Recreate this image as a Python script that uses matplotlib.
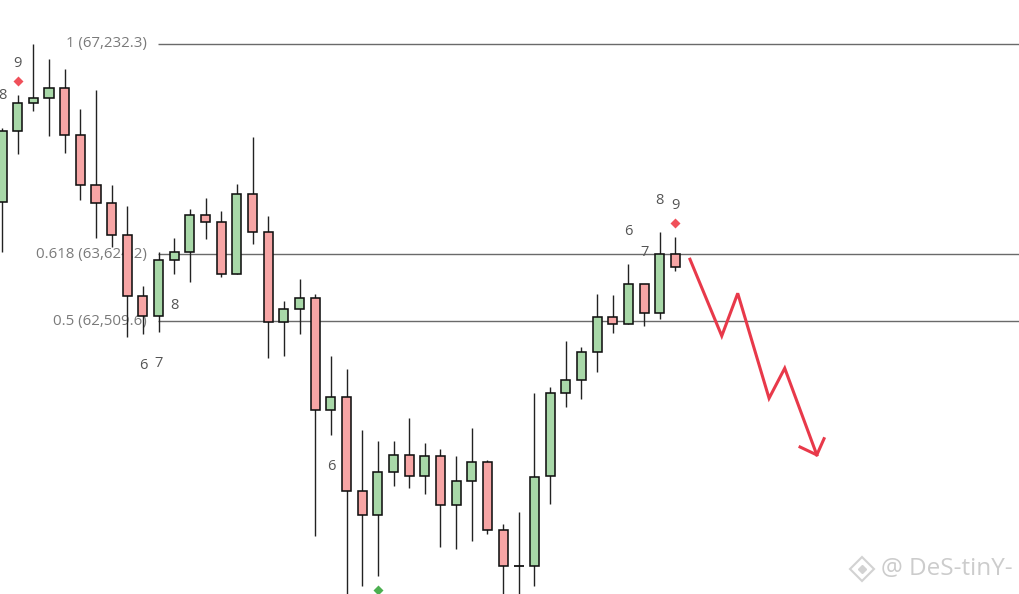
import matplotlib
matplotlib.use("Agg")
import matplotlib.pyplot as plt
import matplotlib.transforms as mtransforms

# ---- candle data ----
opens = [64505, 65710, 66194, 66281, 66455, 65640, 64784, 64478, 63938, 62932,
         62603, 63520, 63654, 64276, 64158, 63287, 64630, 63989, 62495, 62708,
         62889, 61067, 61275, 59781, 59406, 60081, 60349, 60018, 60333, 59562,
         59939, 60239, 59172, 58615, 58615, 60018, 61339, 61550, 62004, 62577,
         62462, 63121, 62643, 63620]
highs = [65772, 66333, 67232.3, 66969, 66794, 66096, 66425, 64789, 64433, 63093,
         63659, 63893, 64382, 64568, 64348, 64806, 65611, 64264, 62845, 63209,
         62960, 61944, 61733, 60752, 60576, 60576, 60944, 60544, 60444, 60338,
         60784, 60270, 59270, 59457, 61344, 61441, 62188, 62090, 62960, 62938,
         63464, 63121, 63989, 63905]
lows = [63664, 65319, 66066, 65633, 65341, 64534, 63898, 63742, 62258, 62303,
        62341, 63297, 63164, 63881, 63247, 63287, 63797, 61916, 61949, 62308,
        59083, 60676, 58120, 58317, 58471, 59869, 59838, 59743, 58917, 58886,
        59010, 59119, 58130, 58140, 58317, 59587, 61124, 61252, 61689, 62324,
        62462, 62439, 62554, 63337]
closes = [65710, 66194, 66281, 66455, 65640, 64784, 64478, 63938, 62932, 62603,
          63520, 63654, 64276, 64158, 63287, 64630, 63989, 62495, 62708, 62889,
          61067, 61275, 59781, 59406, 60081, 60349, 60018, 60333, 59562, 59939,
          60239, 59172, 58615, 58615, 60002, 61339, 61550, 62004, 62577, 62462,
          63121, 62643, 63620, 63404]

# ---- fibonacci ----
fib_high = 67232.3
fib_low = 57786.9
fib_levels = [1, 0.618, 0.5]
fib_start = 9.96

# ---- sequential count labels ----
td_up_idx = [0, 1, 40, 41, 42, 43]
td_up_txt = ["8", "9", "6", "7", "8", "9"]
td_dn_idx = [9, 10, 11, 21]
td_dn_txt = ["6", "7", "8", "6"]
red_diamond_idx = [1, 43]
green_diamond_idx = [24]

# ---- hand-drawn arrow (candle index, price) ----
arrow_x = [43.93, 45.96, 46.98, 48.98, 49.98, 52.03]
arrow_y = [63537, 62270, 62971, 61259, 61744, 60354]
head_x = [50.96, 52.03, 52.49]
head_y = [60480, 60354, 60612]

UP = "#a8d8a8"
DN = "#f7a5a5"

fig = plt.figure(figsize=(10.19, 5.94), dpi=100)
ax = fig.add_axes([0, 0, 1, 1])
ax.set_yscale("log")
ax.set_xlim(-0.128, 64.94)
ax.set_ylim(58189.4, 68013.7)
ax.axis("off")

xs = list(range(len(opens)))
ax.vlines(xs, lows, highs, color="#222222", lw=1.0, zorder=2)
for i in xs:
    o, c = opens[i], closes[i]
    col = UP if c > o else DN
    if c == o:
        ax.hlines(o, i - 0.32, i + 0.32, color="#111111", lw=1.3, zorder=3)
    else:
        ax.bar(i, abs(c - o), bottom=min(o, c), width=0.58, color=col,
               edgecolor="#111111", linewidth=1.15, zorder=3)

# fib lines + labels
for lvl in fib_levels:
    p = fib_low + lvl * (fib_high - fib_low)
    ax.hlines(p, fib_start, 64.94, color="#6a6a6a", lw=1.0, zorder=1)
    ax.annotate(f"{lvl:g} ({p:,.1f})", (fib_start, p), xytext=(-11, 0),
                textcoords="offset pixels", ha="right", va="center",
                fontsize=10.8, family="Open Sans", color="#7a7a7a", zorder=1)

# count labels
for i, t in zip(td_up_idx, td_up_txt):
    ax.annotate(t, (i, highs[i]), xytext=(0, 32), textcoords="offset pixels",
                ha="center", va="center", fontsize=10.5, family="Open Sans",
                color="#555555")
for i, t in zip(td_dn_idx, td_dn_txt):
    ax.annotate(t, (i, lows[i]), xytext=(0, -32), textcoords="offset pixels",
                ha="center", va="center", fontsize=10.5, family="Open Sans",
                color="#555555")

up_tr = mtransforms.offset_copy(ax.transData, fig=fig, x=0, y=14, units="dots")
dn_tr = mtransforms.offset_copy(ax.transData, fig=fig, x=0, y=-14, units="dots")
ax.plot(red_diamond_idx, [highs[i] for i in red_diamond_idx], "D", ms=5.5,
        color="#f0505a", mec="none", transform=up_tr, zorder=4)
ax.plot(green_diamond_idx, [lows[i] for i in green_diamond_idx], "D", ms=5.5,
        color="#4caf50", mec="none", transform=dn_tr, zorder=4)

# arrow drawing
ax.plot(arrow_x, arrow_y, color="#e8394a", lw=2.2, solid_joinstyle="miter", zorder=5)
ax.plot(head_x, head_y, color="#e8394a", lw=2.2, zorder=5)

# watermark
fig.text(881 / 1019, 1 - 569 / 594, "@ DeS-tinY-", fontsize=17.5, family="Open Sans",
         color="#cccccc", va="center", ha="left")
lx, ly = 862 / 1019, 1 - 569 / 594
fig.lines.append(plt.Line2D([lx], [ly], marker="D", ms=12, mfc="none", mec="#d2d2d2",
                            mew=1.5, transform=fig.transFigure))
fig.lines.append(plt.Line2D([lx], [ly], marker="D", ms=4, mfc="#d2d2d2", mec="#d2d2d2",
                            transform=fig.transFigure))

fig.savefig("out.png", dpi=100, facecolor="white")
